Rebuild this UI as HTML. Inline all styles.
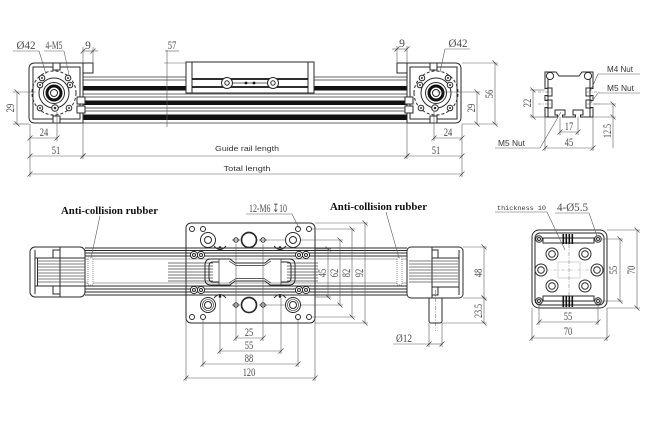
<!DOCTYPE html>
<html><head><meta charset="utf-8">
<style>
html,body{margin:0;padding:0;background:#fff;width:650px;height:426px;overflow:hidden}
svg{display:block}
.o{fill:none;stroke:#2a2a2a;stroke-width:1}
.w{fill:#fff;stroke:#2a2a2a;stroke-width:1}
.d{fill:none;stroke:#5a5a5a;stroke-width:0.6}
.dm{fill:none;stroke:#5a5a5a;stroke-width:0.6;marker-start:url(#k);marker-end:url(#k)}
.t{font-family:"Liberation Serif",serif;font-size:11.5px;fill:#4a4a4a}
.s{font-family:"Liberation Sans",sans-serif;font-size:7.5px;fill:#333}
.n{font-family:"Liberation Sans",sans-serif;font-size:8px;fill:#333}
.b{font-family:"Liberation Serif",serif;font-size:10.5px;font-weight:bold;fill:#111}
.m{font-family:"Liberation Mono",monospace;font-size:6.8px;fill:#333}
</style></head><body>
<svg width="650" height="426" viewBox="0 0 650 426" xmlns="http://www.w3.org/2000/svg">
<defs>
<marker id="k" markerWidth="8" markerHeight="8" refX="4" refY="4" orient="auto" markerUnits="userSpaceOnUse" overflow="visible"><path d="M1.5,6.5 L6.5,1.5" stroke="#444" stroke-width="0.7" fill="none"/></marker>
<g id="endT">
<path d="M83,63 L35,63 Q29,63 29,69 L29,117 Q29,123 35,123 L83,123 Z" class="w" stroke-width="1.1"/>
<rect x="33" y="67" width="47" height="52" class="o" stroke-width="0.6"/>
<rect x="53" y="63" width="7" height="7" class="w"/>
<rect x="53" y="116" width="7" height="7" class="w"/>
<rect x="83" y="63" width="10" height="10" class="w"/>
<rect x="77" y="97" width="8" height="7" class="w"/>
<rect x="77" y="106" width="8" height="7" class="w"/>
<circle cx="54" cy="93" r="22" class="o" stroke-width="0.6" stroke-dasharray="3 2"/>
<circle cx="54" cy="93" r="15" class="o" stroke-width="0.8"/>
<circle cx="54" cy="93" r="10.5" class="o" stroke-width="1"/>
<circle cx="54" cy="93" r="7" fill="none" stroke="#111" stroke-width="3"/>
<circle cx="54" cy="93" r="3.5" class="o"/>
<g class="w" stroke-width="0.9">
<circle cx="42" cy="78" r="2.8"/><circle cx="40" cy="85" r="2.8"/>
<circle cx="68" cy="78" r="2.8"/><circle cx="70" cy="85" r="2.8"/>
<circle cx="40" cy="108" r="2.8"/><circle cx="55" cy="108" r="3.3"/><circle cx="69" cy="108" r="2.8"/>
</g>
<g fill="#333">
<circle cx="42" cy="78" r="1"/><circle cx="40" cy="85" r="1"/><circle cx="68" cy="78" r="1"/><circle cx="70" cy="85" r="1"/>
<circle cx="40" cy="108" r="1"/><circle cx="55" cy="108" r="1.3"/><circle cx="69" cy="108" r="1"/>
</g>
</g>
</defs>

<!-- ================= TOP VIEW ================= -->
<g stroke="#333" stroke-width="0.8">
<line x1="83" y1="77" x2="407" y2="77"/>
<line x1="83" y1="80" x2="407" y2="80"/>
<line x1="83" y1="94" x2="407" y2="94"/>
<line x1="83" y1="97" x2="407" y2="97"/>
<line x1="83" y1="108" x2="407" y2="108"/>
<line x1="83" y1="111" x2="407" y2="111"/>
<line x1="83" y1="123" x2="407" y2="123"/>
</g>
<rect x="83" y="86" width="324" height="4.5" fill="#111"/>
<rect x="83" y="100.5" width="324" height="4.5" fill="#111"/>
<rect x="83" y="114.5" width="324" height="5.5" fill="#111"/>

<!-- carriage -->
<rect x="186" y="62" width="128" height="31" class="w" stroke-width="1.1"/>
<line x1="192" y1="62" x2="192" y2="93" class="o" stroke-width="0.7"/>
<line x1="308" y1="62" x2="308" y2="93" class="o" stroke-width="0.7"/>
<line x1="192" y1="79" x2="308" y2="79" stroke="#111" stroke-width="1.8"/>
<line x1="192" y1="87" x2="308" y2="87" stroke="#111" stroke-width="1.8"/>
<line x1="233" y1="83" x2="267" y2="83" stroke="#333" stroke-width="0.8"/>
<circle cx="227" cy="83" r="5.5" class="w" stroke-width="1.2"/>
<circle cx="227" cy="83" r="2.2" class="o"/>
<circle cx="273" cy="83" r="5.5" class="w" stroke-width="1.2"/>
<circle cx="273" cy="83" r="2.2" class="o"/>
<circle cx="246" cy="83" r="1.4" fill="#111"/>
<circle cx="254" cy="83" r="1.4" fill="#111"/>

<!-- end blocks -->
<use href="#endT"/>
<use href="#endT" transform="translate(490,0) scale(-1,1)"/>

<!-- top dims -->
<g class="d">
<line x1="83" y1="63" x2="83" y2="47"/>
<line x1="93" y1="63" x2="93" y2="47"/>
<line x1="13" y1="51" x2="39" y2="51"/><line x1="39" y1="51" x2="46" y2="74"/>
<line x1="44" y1="51" x2="64" y2="51"/><line x1="64" y1="51" x2="69" y2="75"/>
<line x1="93" y1="51" x2="98" y2="51"/>
<line x1="167" y1="50" x2="167" y2="127"/>
<line x1="164" y1="63" x2="186" y2="63"/>
<line x1="165" y1="51" x2="179" y2="51"/>
<line x1="13" y1="92" x2="36" y2="92"/>
<line x1="13" y1="124" x2="29" y2="124"/>
<line x1="30" y1="124" x2="30" y2="177"/>
<line x1="57" y1="112" x2="57" y2="141"/>
<line x1="83" y1="123" x2="83" y2="159"/>
<line x1="407" y1="123" x2="407" y2="159"/>
<line x1="462" y1="124" x2="462" y2="177"/>
<line x1="397" y1="63" x2="397" y2="46"/>
<line x1="407" y1="63" x2="407" y2="46"/>
<line x1="392" y1="49" x2="397" y2="49"/>
<line x1="445" y1="49" x2="470" y2="49"/><line x1="445" y1="49" x2="440" y2="72"/>
<line x1="437" y1="92" x2="480" y2="92"/>
<line x1="462" y1="124" x2="480" y2="124"/>
<line x1="462" y1="63" x2="498" y2="63"/>
<line x1="480" y1="124" x2="498" y2="124"/>
<line x1="434" y1="112" x2="434" y2="141"/>
</g>
<g class="dm">
<line x1="83" y1="51" x2="93" y2="51"/>
<line x1="17" y1="92" x2="17" y2="124"/>
<line x1="30" y1="138" x2="57" y2="138"/>
<line x1="30" y1="156" x2="83" y2="156"/>
<line x1="83" y1="156" x2="407" y2="156"/>
<line x1="30" y1="174" x2="462" y2="174"/>
<line x1="397" y1="49" x2="407" y2="49"/>
<line x1="477" y1="92" x2="477" y2="124"/>
<line x1="495" y1="63" x2="495" y2="124"/>
<line x1="434" y1="138" x2="462" y2="138"/>
<line x1="407" y1="156" x2="462" y2="156"/>
</g>
<g class="t" text-anchor="middle">
<text x="26" y="49" textLength="19" lengthAdjust="spacingAndGlyphs">Ø42</text>
<text x="54" y="49" textLength="17" lengthAdjust="spacingAndGlyphs">4-M5</text>
<text x="88" y="49">9</text>
<text x="172" y="49" textLength="8.5" lengthAdjust="spacingAndGlyphs">57</text>
<text x="402" y="47">9</text>
<text x="458" y="47" textLength="19" lengthAdjust="spacingAndGlyphs">Ø42</text>
<text x="44" y="136" textLength="8.5" lengthAdjust="spacingAndGlyphs">24</text>
<text x="56" y="154" textLength="8.5" lengthAdjust="spacingAndGlyphs">51</text>
<text x="448" y="136" textLength="8.5" lengthAdjust="spacingAndGlyphs">24</text>
<text x="436" y="154" textLength="8.5" lengthAdjust="spacingAndGlyphs">51</text>
<text transform="translate(10,108) rotate(-90)" dy="0.35em" textLength="8.5" lengthAdjust="spacingAndGlyphs">29</text>
<text transform="translate(471,108) rotate(-90)" dy="0.35em" textLength="8.5" lengthAdjust="spacingAndGlyphs">29</text>
<text transform="translate(489,94) rotate(-90)" dy="0.35em" textLength="8.5" lengthAdjust="spacingAndGlyphs">56</text>
</g>
<text class="s" x="247" y="151" text-anchor="middle" textLength="64" lengthAdjust="spacingAndGlyphs">Guide rail length</text>
<text class="s" x="247" y="171" text-anchor="middle" textLength="47" lengthAdjust="spacingAndGlyphs">Total length</text>

<!-- ================= PROFILE ================= -->
<g stroke="#5a5a5a" stroke-width="0.5" stroke-dasharray="3 1.5 1 1.5">
<line x1="538" y1="92" x2="600" y2="92"/>
<line x1="538" y1="104" x2="600" y2="104"/>
</g>
<path class="w" stroke-width="1" d="M545,117 L545,107.5 L547,107.5 L547,108 L552,108 L552,100 L547,100 L547,100.5 L545,100.5 L545,95.5 L547,95.5 L547,96 L552,96 L552,88 L547,88 L547,88.5 L545,88.5 L545,72 L556,72 L559,76 L579,76 L582,72 L593,72 L593,88.5 L591,88.5 L591,88 L586,88 L586,96 L591,96 L591,95.5 L593,95.5 L593,100.5 L591,100.5 L591,100 L586,100 L586,108 L591,108 L591,107.5 L593,107.5 L593,117 L580.5,117 L580.5,115 L583,115 L583,110 L573,110 L573,115 L575.5,115 L575.5,117 L562.5,117 L562.5,115 L565,115 L565,110 L555,110 L555,115 L557.5,115 L557.5,117 Z"/>
<line x1="548" y1="72" x2="548" y2="117" class="o" stroke-width="0.5"/>
<line x1="590" y1="72" x2="590" y2="117" class="o" stroke-width="0.5"/>
<circle cx="550" cy="76" r="3.6" class="w"/>
<circle cx="588" cy="76" r="3.6" class="w"/>
<g class="d">
<line x1="530" y1="90" x2="545" y2="90"/>
<line x1="530" y1="117" x2="545" y2="117"/>
<line x1="560" y1="117" x2="560" y2="135"/>
<line x1="578" y1="117" x2="578" y2="135"/>
<line x1="545" y1="117" x2="545" y2="151"/>
<line x1="593" y1="117" x2="593" y2="151"/>
<line x1="593" y1="104" x2="616" y2="104"/>
<line x1="593" y1="117" x2="616" y2="117"/>
<line x1="613" y1="117" x2="613" y2="148"/>
<line x1="598" y1="74" x2="640" y2="74"/><line x1="598" y1="74" x2="590" y2="92"/>
<line x1="598" y1="93" x2="640" y2="93"/><line x1="598" y1="93" x2="590" y2="104"/>
<line x1="495" y1="148" x2="540" y2="148"/><line x1="540" y1="148" x2="561" y2="112"/>
</g>
<g class="dm">
<line x1="533" y1="90" x2="533" y2="117"/>
<line x1="560" y1="132" x2="578" y2="132"/>
<line x1="545" y1="148" x2="593" y2="148"/>
<line x1="613" y1="104" x2="613" y2="117"/>
</g>
<g class="t" text-anchor="middle">
<text transform="translate(527,103) rotate(-90)" dy="0.35em" textLength="8.5" lengthAdjust="spacingAndGlyphs">22</text>
<text x="569" y="130" textLength="8.5" lengthAdjust="spacingAndGlyphs">17</text>
<text x="569" y="146" textLength="8.5" lengthAdjust="spacingAndGlyphs">45</text>
<text transform="translate(607,131) rotate(-90)" dy="0.35em" textLength="14" lengthAdjust="spacingAndGlyphs">12.5</text>
</g>
<text class="n" x="607" y="72" textLength="26" lengthAdjust="spacingAndGlyphs">M4 Nut</text>
<text class="n" x="607" y="91" textLength="27" lengthAdjust="spacingAndGlyphs">M5 Nut</text>
<text class="n" x="498" y="146" textLength="27" lengthAdjust="spacingAndGlyphs">M5 Nut</text>

<!-- ================= BOTTOM VIEW ================= -->
<text class="b" x="61" y="214" textLength="97" lengthAdjust="spacingAndGlyphs">Anti-collision rubber</text>
<text class="b" x="330" y="210" textLength="97" lengthAdjust="spacingAndGlyphs">Anti-collision rubber</text>

<!-- plate -->
<rect x="186" y="223" width="129" height="100" rx="5" class="w" stroke-width="1.2"/>

<!-- rail -->
<g stroke="#2a2a2a" stroke-width="1.1">
<line x1="85" y1="248" x2="407" y2="248"/>
<line x1="85" y1="250.5" x2="407" y2="250.5"/>
<line x1="85" y1="253" x2="407" y2="253"/>
<line x1="85" y1="256" x2="407" y2="256"/>
<line x1="85" y1="286" x2="407" y2="286"/>
<line x1="85" y1="289" x2="407" y2="289"/>
<line x1="85" y1="292" x2="407" y2="292"/>
<line x1="85" y1="295" x2="407" y2="295"/>
</g>
<g stroke="#555" stroke-width="0.6">
<line x1="85" y1="259" x2="407" y2="259"/>
<line x1="85" y1="283" x2="407" y2="283"/>
</g>
<!-- belt stripes -->
<g stroke="#444" stroke-width="0.7">
<line x1="168" y1="263" x2="213" y2="263"/><line x1="168" y1="266" x2="213" y2="266"/>
<line x1="168" y1="269" x2="213" y2="269"/><line x1="168" y1="272" x2="213" y2="272"/>
<line x1="168" y1="275" x2="213" y2="275"/><line x1="168" y1="278" x2="213" y2="278"/>
<line x1="168" y1="281" x2="213" y2="281"/>
<line x1="287" y1="263" x2="318" y2="263"/><line x1="287" y1="266" x2="318" y2="266"/>
<line x1="287" y1="269" x2="318" y2="269"/><line x1="287" y1="272" x2="318" y2="272"/>
<line x1="287" y1="275" x2="318" y2="275"/><line x1="287" y1="278" x2="318" y2="278"/>
<line x1="287" y1="281" x2="318" y2="281"/>
</g>
<!-- C shapes & center opening -->
<g class="o" stroke-width="1">
<path d="M219,259 L211,259 Q205,259 205,265 L205,279 Q205,285 211,285 L219,285"/>
<path d="M219,262 L213,262 Q209,262 209,266 L209,278 Q209,282 213,282 L219,282"/>
<path d="M281,259 L289,259 Q295,259 295,265 L295,279 Q295,285 289,285 L281,285"/>
<path d="M281,262 L287,262 Q291,262 291,266 L291,278 Q291,282 287,282 L281,282"/>
<path d="M219,259 L230,259 L235,263 L265,263 L270,259 L281,259"/>
<path d="M229,261 L236,265.5 L264,265.5 L271,261" stroke-width="0.7"/>
<path d="M219,285 L230,285 L235,281 L265,281 L270,285 L281,285"/>
<path d="M229,283 L236,278.5 L264,278.5 L271,283" stroke-width="0.7"/>
<line x1="219" y1="259" x2="219" y2="285" stroke-width="0.7"/>
<line x1="281" y1="259" x2="281" y2="285" stroke-width="0.7"/>
<path d="M214,246 Q220,253 226,246"/><path d="M274,246 Q280,253 286,246"/>
<path d="M214,298 Q220,291 226,298"/><path d="M274,298 Q280,291 286,298"/>
</g>
<g fill="#222">
<circle cx="220" cy="247.5" r="1.3"/><circle cx="280" cy="247.5" r="1.3"/>
<circle cx="220" cy="296.5" r="1.3"/><circle cx="280" cy="296.5" r="1.3"/>
</g>
<!-- rollers -->
<g class="w" stroke-width="0.9">
<circle cx="194" cy="255" r="3.6"/><circle cx="201" cy="255" r="3.6"/>
<circle cx="299" cy="255" r="3.6"/><circle cx="306" cy="255" r="3.6"/>
<circle cx="194" cy="290" r="3.6"/><circle cx="201" cy="290" r="3.6"/>
<circle cx="299" cy="290" r="3.6"/><circle cx="306" cy="290" r="3.6"/>
</g>
<g class="o" stroke-width="0.7">
<circle cx="194" cy="255" r="1.5"/><circle cx="201" cy="255" r="1.5"/>
<circle cx="299" cy="255" r="1.5"/><circle cx="306" cy="255" r="1.5"/>
<circle cx="194" cy="290" r="1.5"/><circle cx="201" cy="290" r="1.5"/>
<circle cx="299" cy="290" r="1.5"/><circle cx="306" cy="290" r="1.5"/>
</g>
<!-- plate holes -->
<g class="d">
<line x1="266" y1="240" x2="343" y2="240"/>
<line x1="266" y1="305" x2="343" y2="305"/>
</g>
<g class="w" stroke-width="1.1">
<circle cx="208" cy="240" r="7.5"/><circle cx="293" cy="240" r="7.5"/>
<circle cx="208" cy="305" r="7.5"/><circle cx="293" cy="305" r="7.5"/>
</g>
<g class="o" stroke-width="1">
<circle cx="208" cy="240" r="3.5"/><circle cx="293" cy="240" r="3.5"/>
<circle cx="208" cy="305" r="3.5"/><circle cx="293" cy="305" r="3.5"/>
<circle cx="208" cy="305" r="5.5" stroke-width="0.6"/><circle cx="293" cy="305" r="5.5" stroke-width="0.6"/>
<circle cx="249" cy="240" r="7.5" stroke-width="1.7"/>
<circle cx="249" cy="305" r="7.5" stroke-width="1.7"/>
<circle cx="236" cy="240" r="2.2"/><circle cx="263" cy="240" r="2.2"/>
<circle cx="236" cy="305" r="2.2"/><circle cx="263" cy="305" r="2.2"/>
<circle cx="192" cy="229" r="2.5"/><circle cx="203" cy="229" r="2.5"/>
<circle cx="298" cy="229" r="2.5"/><circle cx="309" cy="229" r="2.5"/>
<circle cx="192" cy="317" r="2.5"/><circle cx="203" cy="317" r="2.5"/>
<circle cx="298" cy="317" r="2.5"/><circle cx="309" cy="317" r="2.5"/>
</g>
<g stroke="#333" stroke-width="0.6">
<line x1="232" y1="240" x2="240" y2="240"/><line x1="259" y1="240" x2="267" y2="240"/>
<line x1="232" y1="305" x2="240" y2="305"/><line x1="259" y1="305" x2="267" y2="305"/>
</g>

<!-- left end (bottom view) -->
<rect x="30" y="247" width="55" height="50" rx="5" class="w" stroke-width="1.1"/>
<line x1="60" y1="247" x2="60" y2="297" class="o"/>
<line x1="35" y1="250" x2="35" y2="294" class="o" stroke-width="0.7"/>
<line x1="37.5" y1="258" x2="37.5" y2="286" class="o" stroke-width="0.6"/>
<line x1="35" y1="258" x2="85" y2="258" class="o"/>
<line x1="35" y1="286" x2="85" y2="286" class="o"/>
<rect x="53" y="250" width="7" height="8" class="w"/>
<rect x="53" y="286" width="7" height="8" class="w"/>
<g stroke="#555" stroke-width="0.8">
<line x1="38" y1="261" x2="85" y2="261"/><line x1="38" y1="264" x2="85" y2="264"/>
<line x1="38" y1="267" x2="85" y2="267"/><line x1="38" y1="270" x2="85" y2="270"/>
<line x1="38" y1="273" x2="85" y2="273"/><line x1="38" y1="276" x2="85" y2="276"/>
<line x1="38" y1="279" x2="85" y2="279"/><line x1="38" y1="282" x2="85" y2="282"/>
</g>

<!-- right end (bottom view) -->
<rect x="429" y="296" width="13" height="27" rx="2" class="w"/>
<rect x="407" y="247" width="56" height="51" rx="4" class="w" stroke-width="1.1"/>
<line x1="432" y1="247" x2="432" y2="298" class="o"/>
<line x1="432" y1="258" x2="459" y2="258" class="o"/>
<line x1="432" y1="287" x2="459" y2="287" class="o"/>
<line x1="459" y1="250" x2="459" y2="295" class="o" stroke-width="0.7"/>
<rect x="432" y="250" width="6" height="8" class="w"/>
<rect x="432" y="287" width="6" height="8" class="w"/>
<g stroke="#555" stroke-width="0.8">
<line x1="409" y1="261" x2="458" y2="261"/><line x1="409" y1="264" x2="458" y2="264"/>
<line x1="409" y1="267" x2="458" y2="267"/><line x1="409" y1="270" x2="458" y2="270"/>
<line x1="409" y1="273" x2="458" y2="273"/><line x1="409" y1="276" x2="458" y2="276"/>
<line x1="409" y1="279" x2="458" y2="279"/><line x1="409" y1="282" x2="458" y2="282"/>
</g>
<line x1="435.5" y1="290" x2="435.5" y2="331" stroke="#555" stroke-width="0.5" stroke-dasharray="4 1.5 1 1.5"/>

<!-- rubbers -->
<rect x="88" y="258" width="5" height="27" fill="#fff" stroke="#444" stroke-width="0.6" stroke-dasharray="1 1"/>
<rect x="397" y="258" width="5" height="27" fill="#fff" stroke="#444" stroke-width="0.6" stroke-dasharray="1 1"/>
<g class="d">
<line x1="100" y1="216" x2="91" y2="258"/>
<line x1="386" y1="212" x2="399" y2="258"/>
</g>

<!-- bottom view dims -->
<g class="d">
<line x1="246" y1="214" x2="292" y2="214"/><line x1="292" y1="214" x2="299" y2="228"/>
<line x1="236" y1="244" x2="236" y2="341"/><line x1="263" y1="244" x2="263" y2="341"/>
<line x1="220" y1="298" x2="220" y2="354"/><line x1="281" y1="298" x2="281" y2="354"/>
<line x1="203" y1="320" x2="203" y2="367"/><line x1="298" y1="320" x2="298" y2="367"/>
<line x1="186" y1="318" x2="186" y2="381"/><line x1="315" y1="318" x2="315" y2="381"/>
<line x1="315" y1="223" x2="368" y2="223"/><line x1="315" y1="323" x2="368" y2="323"/>
<line x1="311" y1="229" x2="355" y2="229"/><line x1="311" y1="317" x2="355" y2="317"/>
<line x1="315" y1="249" x2="331" y2="249"/><line x1="315" y1="297" x2="331" y2="297"/>
<line x1="463" y1="247" x2="487" y2="247"/><line x1="463" y1="298" x2="487" y2="298"/>
<line x1="442" y1="323" x2="487" y2="323"/>
<line x1="429" y1="323" x2="429" y2="347"/><line x1="442" y1="323" x2="442" y2="347"/>
<line x1="393" y1="344" x2="429" y2="344"/>
</g>
<g class="dm">
<line x1="236" y1="338" x2="263" y2="338"/>
<line x1="220" y1="351" x2="281" y2="351"/>
<line x1="203" y1="364" x2="298" y2="364"/>
<line x1="186" y1="378" x2="315" y2="378"/>
<line x1="328" y1="249" x2="328" y2="297"/>
<line x1="340" y1="240" x2="340" y2="305"/>
<line x1="352" y1="229" x2="352" y2="317"/>
<line x1="365" y1="223" x2="365" y2="323"/>
<line x1="484" y1="247" x2="484" y2="298"/>
<line x1="484" y1="298" x2="484" y2="323"/>
<line x1="429" y1="344" x2="442" y2="344"/>
</g>
<g class="t" text-anchor="middle">
<text x="249" y="336" textLength="8.5" lengthAdjust="spacingAndGlyphs">25</text>
<text x="249" y="349" textLength="8.5" lengthAdjust="spacingAndGlyphs">55</text>
<text x="249" y="362" textLength="8.5" lengthAdjust="spacingAndGlyphs">88</text>
<text x="249" y="376" textLength="12.5" lengthAdjust="spacingAndGlyphs">120</text>
<text transform="translate(322,273) rotate(-90)" dy="0.35em" textLength="8.5" lengthAdjust="spacingAndGlyphs">45</text>
<text transform="translate(334,273) rotate(-90)" dy="0.35em" textLength="8.5" lengthAdjust="spacingAndGlyphs">62</text>
<text transform="translate(346,273) rotate(-90)" dy="0.35em" textLength="8.5" lengthAdjust="spacingAndGlyphs">82</text>
<text transform="translate(359,273) rotate(-90)" dy="0.35em" textLength="8.5" lengthAdjust="spacingAndGlyphs">92</text>
<text transform="translate(478,273) rotate(-90)" dy="0.35em" textLength="8.5" lengthAdjust="spacingAndGlyphs">48</text>
<text transform="translate(478,311) rotate(-90)" dy="0.35em" textLength="14" lengthAdjust="spacingAndGlyphs">23.5</text>
</g>
<text class="t" x="249" y="212" textLength="38" lengthAdjust="spacingAndGlyphs">12-M6 ↧10</text>
<text class="t" x="396" y="342" textLength="16" lengthAdjust="spacingAndGlyphs">Ø12</text>

<!-- ================= END VIEW ================= -->
<rect x="532" y="230" width="75" height="78" rx="7" class="w" stroke-width="1.2"/>
<rect x="535" y="233" width="69" height="72" rx="5" class="o" stroke-width="0.7"/>
<line x1="569" y1="244" x2="569" y2="296" stroke="#666" stroke-width="0.5" stroke-dasharray="4 1.5 1 1.5"/>
<line x1="545" y1="270" x2="593" y2="270" stroke="#888" stroke-width="0.4" stroke-dasharray="4 1.5 1 1.5"/>
<rect x="558" y="262" width="22" height="16" fill="none" stroke="#bbb" stroke-width="0.6"/>
<g class="o" stroke-width="0.9">
<path d="M543,243 L543,238 L594,238 L594,243 Z"/>
<path d="M543,296 L543,301 L594,301 L594,296 Z"/>
</g>
<g fill="#111">
<rect x="562.5" y="234" width="1.6" height="10"/><rect x="565.5" y="234" width="1.6" height="10"/>
<rect x="568.5" y="234" width="1.6" height="10"/><rect x="571.5" y="234" width="1.6" height="10"/>
<rect x="562.5" y="296" width="1.6" height="11"/><rect x="565.5" y="296" width="1.6" height="11"/>
<rect x="568.5" y="296" width="1.6" height="11"/><rect x="571.5" y="296" width="1.6" height="11"/>
</g>
<g class="w" stroke-width="1">
<circle cx="552" cy="254" r="6"/><circle cx="585" cy="254" r="6"/>
<circle cx="541" cy="270" r="6"/><circle cx="597" cy="270" r="6"/>
<circle cx="552" cy="286" r="6"/><circle cx="585" cy="286" r="6"/>
<circle cx="539" cy="239" r="3.3"/><circle cx="598" cy="239" r="3.3"/>
<circle cx="539" cy="301" r="3.3"/><circle cx="598" cy="301" r="3.3"/>
</g>
<g class="o" stroke-width="0.8">
<circle cx="552" cy="254" r="3.3"/><circle cx="585" cy="254" r="3.3"/>
<circle cx="541" cy="270" r="3.3"/><circle cx="597" cy="270" r="3.3"/>
<circle cx="552" cy="286" r="3.3"/><circle cx="585" cy="286" r="3.3"/>
<circle cx="539" cy="239" r="1.5"/><circle cx="598" cy="239" r="1.5"/>
<circle cx="539" cy="301" r="1.5"/><circle cx="598" cy="301" r="1.5"/>
</g>
<g class="d">
<line x1="495" y1="212" x2="547" y2="212"/><line x1="547" y1="212" x2="565" y2="250"/>
<line x1="555" y1="213" x2="589" y2="213"/><line x1="589" y1="213" x2="597" y2="236"/>
<line x1="599" y1="239" x2="623" y2="239"/><line x1="599" y1="301" x2="623" y2="301"/>
<line x1="607" y1="230" x2="640" y2="230"/><line x1="607" y1="308" x2="640" y2="308"/>
<line x1="539" y1="304" x2="539" y2="325"/><line x1="598" y1="304" x2="598" y2="325"/>
<line x1="532" y1="308" x2="532" y2="341"/><line x1="607" y1="308" x2="607" y2="341"/>
</g>
<g class="dm">
<line x1="620" y1="239" x2="620" y2="301"/>
<line x1="637" y1="230" x2="637" y2="308"/>
<line x1="539" y1="322" x2="598" y2="322"/>
<line x1="532" y1="338" x2="607" y2="338"/>
</g>
<text class="m" x="497" y="210" textLength="49" lengthAdjust="spacingAndGlyphs">thickness 10</text>
<text class="t" x="557" y="211" textLength="31" lengthAdjust="spacingAndGlyphs">4-Ø5.5</text>
<g class="t" text-anchor="middle">
<text transform="translate(613,270) rotate(-90)" dy="0.35em" textLength="8.5" lengthAdjust="spacingAndGlyphs">55</text>
<text transform="translate(631,270) rotate(-90)" dy="0.35em" textLength="8.5" lengthAdjust="spacingAndGlyphs">70</text>
<text x="568" y="320" textLength="8.5" lengthAdjust="spacingAndGlyphs">55</text>
<text x="568" y="335" textLength="8.5" lengthAdjust="spacingAndGlyphs">70</text>
</g>
</svg>
</body></html>
